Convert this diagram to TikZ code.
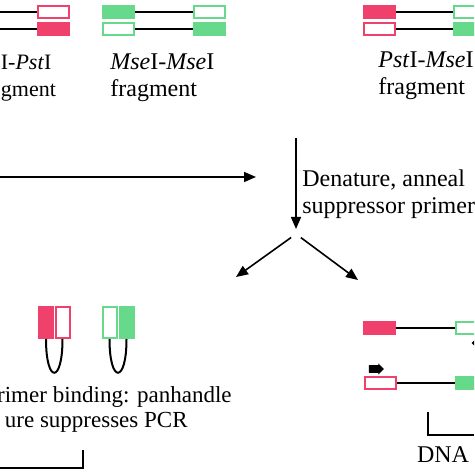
\documentclass[tikz,border=0pt]{standalone}
\usepackage{fontspec}
\setmainfont{Liberation Serif}
\usetikzlibrary{positioning,arrows.meta,shapes.arrows}
\definecolor{primerRed}{HTML}{F0416D}
\definecolor{primerGreen}{HTML}{67D98A}

\begin{document}
\begin{tikzpicture}[x=0.5pt, y=-0.5pt, font=\fontsize{12}{13.5}\selectfont,
  adaptor/.style={rectangle, minimum width=15.5pt, minimum height=6pt, inner sep=0pt, line width=1pt},
  redfill/.style={adaptor, draw=primerRed, fill=primerRed},
  redopen/.style={adaptor, draw=primerRed, fill=white},
  greenfill/.style={adaptor, draw=primerGreen, fill=primerGreen},
  greenopen/.style={adaptor, draw=primerGreen, fill=white},
  hairpin/.style={minimum width=7pt, minimum height=15.5pt},
  strand/.style={line width=1pt},
  flow/.style={-{Triangle[length=6pt,width=5pt]}, line width=0.8pt},
  primer/.style={single arrow, fill=black, inner sep=1.75pt, minimum height=7.5pt, single arrow head extend=0.9pt},
  fraglabel/.style={inner sep=0pt}]
\clip (0,0) rectangle (474,474);
% MseI-PstI fragment (cut at the left)
\coordinate (pmTopL) at (0,12);
\coordinate (pmBotL) at (0,29.5);
\node[redopen] (pmTopR) at (53.5,12) {};
\node[redfill] (pmBotR) at (53.5,29.5) {};
\draw[strand] (pmTopL) -- (pmTopR);
\draw[strand] (pmBotL) -- (pmBotR);
\node[fraglabel, align=left, anchor=west, font=\fontsize{11}{13.5}\selectfont] (pmText) at (0.5,78) {I-\textit{Pst}I\\gment};
% MseI-MseI fragment
\node[greenfill] (mmTopL) at (118,12) {};
\node[greenopen] (mmTopR) at (209,12) {};
\node[greenopen] (mmBotL) at (118,29.5) {};
\node[greenfill] (mmBotR) at (209,29.5) {};
\draw[strand] (mmTopL) -- (mmTopR);
\draw[strand] (mmBotL) -- (mmBotR);
\node[fraglabel, align=left, anchor=west] (mmText) at (110,78) {\textit{Mse}I-\textit{Mse}I\\fragment};
% PstI-MseI fragment
\node[redfill] (psTopL) at (379,12) {};
\node[greenopen] (psTopR) at (469,12) {};
\node[redopen] (psBotL) at (379,29) {};
\node[greenfill] (psBotR) at (469,29) {};
\draw[strand] (psTopL) -- (psTopR);
\draw[strand] (psBotL) -- (psBotR);
\node[fraglabel, align=left, anchor=west] (psText) at (378,76) {\textit{Pst}I-\textit{Mse}I\\fragment};
% arrows
\coordinate (sortStart) at (0,177);
\coordinate (sortEnd) at (256,177);
\draw[flow] (sortStart) -- (sortEnd);
\coordinate (denatureTop) at (296,138);
\coordinate (split) at (296,234);
\coordinate (loopTarget) at (236,277);
\coordinate (pcrTarget) at (358,280);
\draw[flow, shorten >=2.5pt] (denatureTop) -- (split);
\draw[flow, shorten <=3pt] (split) -- (loopTarget);
\draw[flow, shorten <=3pt] (split) -- (pcrTarget);
\node[fraglabel, align=left, anchor=west] (denatureText) at (302,194) {Denature, anneal\\suppressor primer};
% panhandles
\node[redfill, hairpin] (hpRedL) at (46,322.5) {};
\node[redopen, hairpin] (hpRedR) at (62.5,322.5) {};
\node[greenopen, hairpin] (hpGrnL) at (109.5,322.5) {};
\node[greenfill, hairpin] (hpGrnR) at (126.5,322.5) {};
\draw[strand] (hpRedL.south) .. controls +(0,45) and +(0,45) .. (hpRedR.south);
\draw[strand] (hpGrnL.south) .. controls +(0,45) and +(0,45) .. (hpGrnR.south);
\node[anchor=base east, inner sep=0pt, font=\fontsize{11.5}{13}\selectfont] (noBindText) at (232,402) {rimer binding: panhandle};
\node[anchor=base east, inner sep=0pt, font=\fontsize{11.5}{13}\selectfont] (panText) at (188,427) {ure suppresses PCR};
\coordinate (brLeft) at (0,468);
\coordinate (brTop) at (83,450);
\draw[line width=0.8pt] (brLeft) -| (brTop);
% amplified strands
\node[redfill] (rsTopL) at (379,328) {};
\node[greenopen] (rsTopR) at (471,328) {};
\node[redopen] (rsBotL) at (380.5,383) {};
\node[greenfill] (rsBotR) at (471,383) {};
\draw[strand] (rsTopL) -- (rsTopR);
\draw[strand] (rsBotL) -- (rsBotR);
\node[primer] (fwdPrimer) at (374.5,369) {};
\node[primer, shape border rotate=180] (revPrimer) at (481,343) {};
\coordinate (dnaTop) at (428,412);
\coordinate (dnaRight) at (474,435);
\draw[line width=0.8pt] (dnaTop) |- (dnaRight);
\node[anchor=base, inner sep=0pt] (dnaText) at (443,462) {DNA};
\end{tikzpicture}
\end{document}
